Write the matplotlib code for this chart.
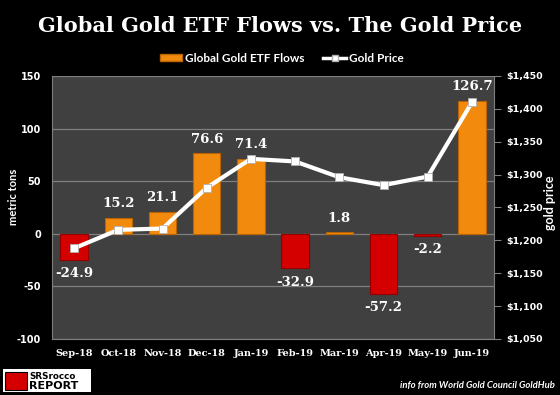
import matplotlib.pyplot as plt
from matplotlib.patches import Rectangle, Patch
from matplotlib.lines import Line2D

# Data
months = ['Sep-18', 'Oct-18', 'Nov-18', 'Dec-18', 'Jan-19',
          'Feb-19', 'Mar-19', 'Apr-19', 'May-19', 'Jun-19']
etf_flows = [-24.9, 15.2, 21.1, 76.6, 71.4, -32.9, 1.8, -57.2, -2.2, 126.7]
gold_price = [1188, 1216, 1218, 1280, 1324, 1320, 1296, 1284, 1297, 1410]
left_ticks = [-100, -50, 0, 50, 100, 150]
right_ticks = [1050, 1100, 1150, 1200, 1250, 1300, 1350, 1400, 1450]

ORANGE = '#F28A0E'
RED = '#D40000'
PLOT_BG = '#404040'
GRID = '#7f7f7f'

fig = plt.figure(figsize=(5.6, 3.95), dpi=100, facecolor='black')
ax = fig.add_axes([0.0929, 0.1418, 0.7893, 0.6658])
ax.set_facecolor(PLOT_BG)

x = list(range(len(months)))
colors = [ORANGE if v >= 0 else RED for v in etf_flows]
edges = ['#B86400' if v >= 0 else '#940000' for v in etf_flows]
ax.bar(x, etf_flows, width=0.62, color=colors, edgecolor=edges,
       linewidth=0.8, zorder=3)

ax.set_ylim(-100, 150)
ax.set_xlim(-0.5, len(months) - 0.5)
ax.set_yticks(left_ticks)
ax.set_yticklabels([str(t) for t in left_ticks], color='white',
                   fontsize=7, fontweight='bold', family='DejaVu Sans')
ax.set_xticks(x)
ax.set_xticklabels(months, color='white', fontsize=7, fontweight='bold',
                   family='DejaVu Serif')
ax.tick_params(axis='y', length=0, pad=8)
ax.tick_params(axis='x', length=0, pad=7)
ax.grid(axis='y', color=GRID, linewidth=0.9, zorder=0)
for s in ['top', 'right']:
    ax.spines[s].set_visible(False)
for s in ['left', 'bottom']:
    ax.spines[s].set_color(GRID)
ax.set_ylabel('metric tons', color='white', fontsize=8, fontweight='bold',
              family='Lato')
ax.yaxis.set_label_coords(-0.0747, 0.542)

# value labels
for xi, v in zip(x, etf_flows):
    off = 10 if v >= 0 else -10
    ax.annotate(f'{v:.1f}', (xi, v), xytext=(0, off), textcoords='offset points',
                ha='center', va='center', color='white', fontsize=9.5,
                fontweight='bold', family='DejaVu Serif', zorder=6)

ax2 = ax.twinx()
ax2.plot(x, gold_price, color='white', linewidth=3, marker='s', markersize=6,
         markerfacecolor='white', markeredgecolor='#b0b0b0', markeredgewidth=0.6,
         zorder=5)
ax2.set_ylim(1050, 1450)
ax2.set_yticks(right_ticks)
ax2.set_yticklabels([f'${t:,}' for t in right_ticks], color='white',
                    fontsize=6.8, fontweight='bold', family='DejaVu Sans')
ax2.tick_params(axis='y', length=5, color=GRID, pad=3.5)
for s in ['top', 'left', 'bottom']:
    ax2.spines[s].set_visible(False)
ax2.spines['right'].set_color(GRID)
ax2.set_ylabel('gold price', color='white', fontsize=9, fontweight='bold',
               family='Lato')
ax2.yaxis.set_label_coords(1.113, 0.519)
ax.set_zorder(ax2.get_zorder() - 1)
ax2.patch.set_visible(False)

# legend
handles = [Patch(facecolor=ORANGE, edgecolor='#B86400'),
           Line2D([0], [0], color='white', lw=2.5, marker='s', markersize=5,
                  markerfacecolor='white', markeredgecolor='#b0b0b0')]
leg = fig.legend(handles, ['Global Gold ETF Flows', 'Gold Price'], loc='center',
                 bbox_to_anchor=(0.503, 0.853), ncol=2, frameon=False,
                 handlelength=1.9, handleheight=0.5, columnspacing=1.6,
                 handletextpad=0.25, prop={'family': 'Lato', 'weight': 'bold',
                                           'size': 8.5})
for t in leg.get_texts():
    t.set_color('white')

fig.text(0.5, 0.92, 'Global Gold ETF Flows vs. The Gold Price', ha='center',
         va='baseline', color='white', fontsize=15, fontweight='bold',
         family='DejaVu Serif')

fig.text(0.99, 0.025, 'info from World Gold Council GoldHub', ha='right',
         va='center', color='white', fontsize=6.8, fontstyle='italic',
         fontweight='bold', family='Lato')

# logo
fig.patches.append(Rectangle((0.0054, 0.0076), 0.157, 0.058, transform=fig.transFigure,
                             facecolor='white', edgecolor='none'))
fig.patches.append(Rectangle((0.009, 0.013), 0.04, 0.045, transform=fig.transFigure,
                             facecolor=RED, edgecolor='black', linewidth=0.8))
fig.text(0.052, 0.048, 'SRSrocco', color='black', fontsize=6.3, fontweight='bold',
         va='center', ha='left', family='DejaVu Sans')
fig.text(0.052, 0.024, 'REPORT', color='black', fontsize=8, fontweight='bold',
         va='center', ha='left', family='DejaVu Sans')

fig.savefig('out.png', dpi=100, facecolor='black')
